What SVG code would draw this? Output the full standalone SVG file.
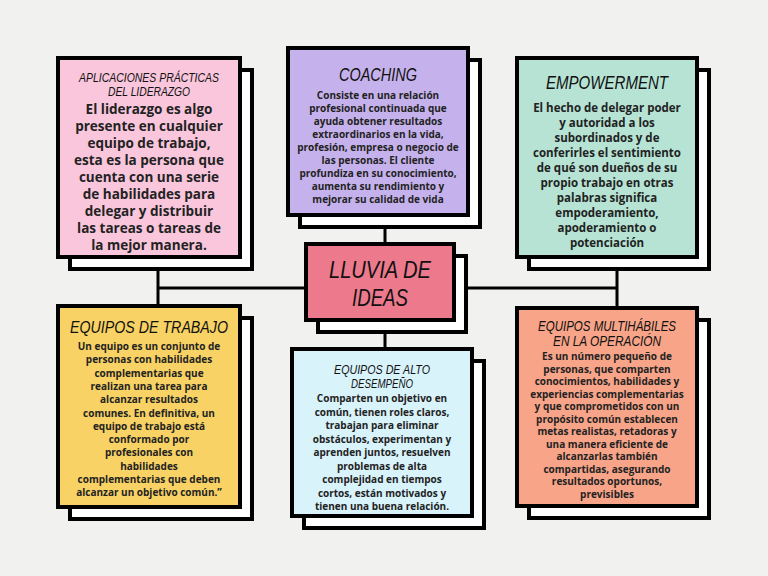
<svg xmlns="http://www.w3.org/2000/svg" width="768" height="576" viewBox="0 0 768 576">
<style>
.sh{fill:#fff;stroke:#000;stroke-width:4}
.fr{stroke:#000;stroke-width:4}
.t{font-family:"Liberation Sans",sans-serif;font-style:italic;text-anchor:middle;fill:#111}
.b{font-family:"Open Sans","Noto Sans",sans-serif;font-weight:bold;text-anchor:middle;fill:#222}
.c{stroke:#000;stroke-width:3;fill:none}
</style>
<rect width="768" height="576" fill="#f1f1ef"/>
<g id="connectors">
<path class="c" d="M158 288H617M158 257V306M617 257V308M385 215V244M385 320V349"/>
</g>
<g id="aplicaciones">
<rect class="sh" x="70" y="70" width="182" height="199"/>
<rect class="fr" x="58" y="58" width="182" height="199" fill="#f9c6dc"/>
<text class="t" x="149" y="82" font-size="13" textLength="140" lengthAdjust="spacingAndGlyphs">APLICACIONES PRÁCTICAS</text>
<text class="t" x="149" y="96" font-size="13" textLength="82" lengthAdjust="spacingAndGlyphs">DEL LIDERAZGO</text>
<text class="b" x="149" y="114" style="font-size:13.5px"><tspan x="149">El liderazgo es algo</tspan><tspan x="149" dy="17">presente en cualquier</tspan><tspan x="149" dy="17">equipo de trabajo,</tspan><tspan x="149" dy="17">esta es la persona que</tspan><tspan x="149" dy="17">cuenta con una serie</tspan><tspan x="149" dy="17">de habilidades para</tspan><tspan x="149" dy="17">delegar y distribuir</tspan><tspan x="149" dy="17">las tareas o tareas de</tspan><tspan x="149" dy="17">la mejor manera.</tspan></text>
</g>
<g id="coaching">
<rect class="sh" x="300" y="60" width="180" height="167"/>
<rect class="fr" x="288" y="48" width="180" height="167" fill="#c5b2ec"/>
<text class="t" x="378" y="81" font-size="19" textLength="78" lengthAdjust="spacingAndGlyphs">COACHING</text>
<text class="b" x="378" y="99" style="font-size:10px"><tspan x="378">Consiste en una relación</tspan><tspan x="378" dy="13">profesional continuada que</tspan><tspan x="378" dy="13">ayuda obtener resultados</tspan><tspan x="378" dy="13">extraordinarios en la vida,</tspan><tspan x="378" dy="13">profesión, empresa o negocio de</tspan><tspan x="378" dy="13">las personas. El cliente</tspan><tspan x="378" dy="13">profundiza en su conocimiento,</tspan><tspan x="378" dy="13">aumenta su rendimiento y</tspan><tspan x="378" dy="13">mejorar su calidad de vida</tspan></text>
</g>
<g id="empowerment">
<rect class="sh" x="529" y="70" width="180" height="199"/>
<rect class="fr" x="517" y="58" width="180" height="199" fill="#b6e3d4"/>
<text class="t" x="607" y="89" font-size="19" textLength="122" lengthAdjust="spacingAndGlyphs">EMPOWERMENT</text>
<text class="b" x="607" y="112" style="font-size:11.5px"><tspan x="607">El hecho de delegar poder</tspan><tspan x="607" dy="15">y autoridad a los</tspan><tspan x="607" dy="15">subordinados y de</tspan><tspan x="607" dy="15">conferirles el sentimiento</tspan><tspan x="607" dy="15">de qué son dueños de su</tspan><tspan x="607" dy="15">propio trabajo en otras</tspan><tspan x="607" dy="15">palabras significa</tspan><tspan x="607" dy="15">empoderamiento,</tspan><tspan x="607" dy="15">apoderamiento o</tspan><tspan x="607" dy="15">potenciación</tspan></text>
</g>
<g id="lluvia">
<rect class="sh" x="318" y="256" width="148" height="76"/>
<rect class="fr" x="306" y="244" width="148" height="76" fill="#ec7a8c"/>
<text class="t" x="380" y="278" font-size="24" textLength="102" lengthAdjust="spacingAndGlyphs">LLUVIA DE</text>
<text class="t" x="380" y="306" font-size="24" textLength="56" lengthAdjust="spacingAndGlyphs">IDEAS</text>
</g>
<g id="equipos-trabajo">
<rect class="sh" x="70" y="318" width="182" height="201"/>
<rect class="fr" x="58" y="306" width="182" height="201" fill="#f8d264"/>
<text class="t" x="149" y="333" font-size="17" textLength="158" lengthAdjust="spacingAndGlyphs">EQUIPOS DE TRABAJO</text>
<text class="b" x="149" y="350" style="font-size:10px"><tspan x="149">Un equipo es un conjunto de</tspan><tspan x="149" dy="13.3">personas con habilidades</tspan><tspan x="149" dy="13.3">complementarias que</tspan><tspan x="149" dy="13.3">realizan una tarea para</tspan><tspan x="149" dy="13.3">alcanzar resultados</tspan><tspan x="149" dy="13.3">comunes. En definitiva, un</tspan><tspan x="149" dy="13.3">equipo de trabajo está</tspan><tspan x="149" dy="13.3">conformado por</tspan><tspan x="149" dy="13.3">profesionales con</tspan><tspan x="149" dy="13.3">habilidades</tspan><tspan x="149" dy="13.3">complementarias que deben</tspan><tspan x="149" dy="13.3">alcanzar un objetivo común.”</tspan></text>
</g>
<g id="alto-desempeno">
<rect class="sh" x="304" y="361" width="180" height="167"/>
<rect class="fr" x="292" y="349" width="180" height="167" fill="#d8f3fa"/>
<text class="t" x="382" y="374" font-size="13" textLength="96" lengthAdjust="spacingAndGlyphs">EQUIPOS DE ALTO</text>
<text class="t" x="382" y="388" font-size="13" textLength="62" lengthAdjust="spacingAndGlyphs">DESEMPEÑO</text>
<text class="b" x="382" y="402" style="font-size:10px"><tspan x="382">Comparten un objetivo en</tspan><tspan x="382" dy="13.5">común, tienen roles claros,</tspan><tspan x="382" dy="13.5">trabajan para eliminar</tspan><tspan x="382" dy="13.5">obstáculos, experimentan y</tspan><tspan x="382" dy="13.5">aprenden juntos, resuelven</tspan><tspan x="382" dy="13.5">problemas de alta</tspan><tspan x="382" dy="13.5">complejidad en tiempos</tspan><tspan x="382" dy="13.5">cortos, están motivados y</tspan><tspan x="382" dy="13.5">tienen una buena relación.</tspan></text>
</g>
<g id="multihabiles">
<rect class="sh" x="529" y="320" width="180" height="198"/>
<rect class="fr" x="517" y="308" width="180" height="198" fill="#f7a488"/>
<text class="t" x="607" y="331" font-size="14" textLength="138" lengthAdjust="spacingAndGlyphs">EQUIPOS MULTIHÁBILES</text>
<text class="t" x="607" y="346" font-size="14" textLength="108" lengthAdjust="spacingAndGlyphs">EN LA OPERACIÓN</text>
<text class="b" x="607" y="360" style="font-size:10px"><tspan x="607">Es un número pequeño de</tspan><tspan x="607" dy="12.5">personas, que comparten</tspan><tspan x="607" dy="12.5">conocimientos, habilidades y</tspan><tspan x="607" dy="12.5">experiencias complementarias</tspan><tspan x="607" dy="12.5">y que comprometidos con un</tspan><tspan x="607" dy="12.5">propósito común establecen</tspan><tspan x="607" dy="12.5">metas realistas, retadoras y</tspan><tspan x="607" dy="12.5">una manera eficiente de</tspan><tspan x="607" dy="12.5">alcanzarlas también</tspan><tspan x="607" dy="12.5">compartidas, asegurando</tspan><tspan x="607" dy="12.5">resultados oportunos,</tspan><tspan x="607" dy="12.5">previsibles</tspan></text>
</g>
</svg>
